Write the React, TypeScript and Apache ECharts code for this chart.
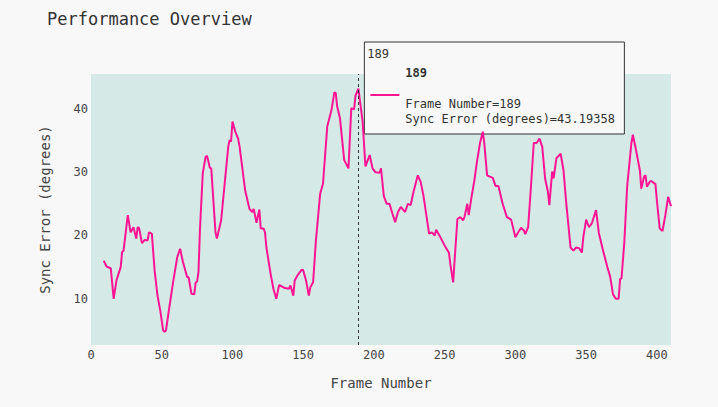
import React, { useEffect, useRef } from "react";
import * as echarts from "echarts";

const TITLE = "Performance Overview";
const X_NAME = "Frame Number";
const Y_NAME = "Sync Error (degrees)";

const frames: number[] = [
  9, 11, 13, 14, 16, 18, 21, 22, 23, 26, 28, 30, 32, 33, 34, 36, 38, 40, 41, 43,
  45, 47, 49, 51, 52, 53, 55, 58, 61, 63, 65, 68, 69, 71, 73, 74, 75, 76, 77, 79,
  81, 82, 84, 85, 88, 89, 92, 97, 98, 99, 100, 102, 104, 105, 109, 112, 114, 115, 117, 119,
  120, 122, 123, 124, 127, 129, 131, 133, 137, 140, 141, 143, 144, 146, 149, 150, 152, 154, 155, 157,
  159, 162, 164, 167, 170, 172, 173, 174, 176, 179, 182, 184, 186, 187, 189, 192, 194, 197, 199, 201,
  204, 205, 207, 209, 211, 213, 215, 217, 219, 222, 224, 226, 228, 231, 233, 235, 239, 241, 243, 244,
  247, 251, 253, 254, 256, 259, 261, 263, 264, 266, 267, 269, 271, 273, 275, 277, 278, 280, 282, 284,
  286, 288, 291, 294, 297, 300, 302, 304, 306, 307, 309, 311, 313, 315, 317, 319, 321, 323, 324, 326,
  327, 329, 332, 334, 336, 339, 341, 343, 345, 347, 348, 350, 352, 354, 357, 359, 362, 365, 367, 369,
  371, 373, 374, 375, 377, 379, 382, 383, 385, 388, 389, 391, 392, 393, 395, 396, 399, 400, 402, 404,
  406, 408, 410,
];

const syncError: number[] = [
  16.0, 15.1, 14.9, 14.8, 10.0, 12.9, 15.0, 17.4, 17.6, 23.2, 20.5, 21.3, 19.5, 21.3, 21.2, 18.8, 19.3, 19.2, 20.5, 20.3,
  14.4, 10.5, 8.1, 5.0, 4.8, 5.0, 8.1, 12.6, 16.6, 17.9, 15.8, 13.4, 13.4, 10.8, 10.7, 12.6, 12.7, 14.3, 20.8, 29.8,
  32.4, 32.6, 30.7, 30.6, 20.5, 19.5, 22.4, 34.0, 35.1, 34.8, 38.0, 36.4, 35.3, 34.1, 27.1, 24.2, 23.7, 24.2, 22.0, 24.1,
  21.1, 21.1, 20.5, 18.1, 13.9, 11.5, 10.0, 12.2, 11.7, 11.6, 12.1, 10.5, 12.9, 13.7, 14.6, 14.5, 12.9, 10.5, 11.8, 12.6,
  19.2, 26.6, 28.2, 37.2, 39.8, 42.6, 42.5, 40.4, 38.5, 31.9, 30.6, 40.1, 39.9, 42.1, 43.19358, 38.0, 30.9, 32.7, 30.6, 30.0,
  29.9, 30.6, 26.2, 25.0, 25.0, 23.5, 22.1, 23.7, 24.5, 23.7, 25.0, 24.8, 26.9, 29.5, 28.5, 26.3, 20.3, 20.5, 20.0, 20.9,
  19.7, 18.0, 17.3, 15.5, 12.6, 22.6, 22.9, 22.4, 22.9, 25.0, 23.2, 26.1, 28.7, 31.9, 34.6, 36.4, 34.6, 29.5, 29.3, 29.1,
  27.8, 27.8, 25.0, 22.9, 22.5, 19.7, 20.5, 21.2, 20.8, 20.2, 21.3, 27.7, 34.6, 34.6, 35.3, 34.0, 29.0, 26.9, 24.8, 30.1,
  29.0, 32.2, 32.9, 30.3, 25.0, 18.1, 17.6, 18.1, 18.0, 17.3, 19.7, 22.5, 21.3, 21.9, 24.0, 20.4, 17.6, 15.0, 13.5, 10.7,
  10.0, 10.0, 13.1, 13.2, 18.9, 27.7, 34.6, 35.9, 33.8, 30.3, 27.4, 29.3, 29.5, 27.7, 28.5, 28.6, 28.1, 25.6, 21.1, 20.7,
  23.2, 26.1, 24.6,
];

const HOVER_FRAME = 189;
const HOVER_VALUE_TEXT = "43.19358";

const FONT = "DejaVu Sans Mono";
const LINE_COLOR = "#FF1493";

export default function App() {
  const ref = useRef<HTMLDivElement>(null);

  useEffect(() => {
    if (!ref.current) return;
    const chart = echarts.init(ref.current, undefined, { renderer: "svg" });
    const data = frames.map((f, i) => [f, syncError[i]]);
    chart.setOption({
      animation: false,
      backgroundColor: "#f8f8f8",
      textStyle: { fontFamily: FONT },
      title: {
        text: TITLE,
        left: 47,
        top: 10,
        padding: 0,
        textStyle: { fontFamily: FONT, fontSize: 17, fontWeight: "normal", color: "#333" },
      },
      grid: {
        left: 91,
        right: 47,
        top: 74,
        bottom: 62,
        show: true,
        backgroundColor: "#d5eae7",
        borderWidth: 0,
      },
      xAxis: {
        type: "value",
        min: 0,
        max: 410,
        interval: 50,
        name: X_NAME,
        nameLocation: "middle",
        nameGap: 31,
        nameTextStyle: { fontFamily: FONT, fontSize: 14, color: "#444" },
        axisLine: { show: false },
        axisTick: { show: false },
        splitLine: { show: false },
        axisLabel: {
          fontFamily: FONT,
          fontSize: 12,
          color: "#444",
          margin: 4,
          showMaxLabel: false,
          formatter: (v: number) => (v % 50 === 0 ? String(v) : ""),
        },
      },
      yAxis: {
        type: "value",
        min: 2.7,
        max: 45.5,
        name: Y_NAME,
        nameLocation: "middle",
        nameGap: 39,
        nameTextStyle: { fontFamily: FONT, fontSize: 14, color: "#444" },
        axisLine: { show: false },
        axisTick: { show: false },
        splitLine: { show: false },
        axisLabel: {
          fontFamily: FONT,
          fontSize: 12,
          color: "#444",
          margin: 3,
          showMinLabel: false,
          showMaxLabel: false,
          formatter: (v: number) => (v % 10 === 0 ? String(v) : ""),
        },
      },
      series: [
        {
          type: "line",
          data,
          showSymbol: false,
          symbol: "none",
          lineStyle: { color: LINE_COLOR, width: 2 },
          itemStyle: { color: LINE_COLOR },
          markLine: {
            silent: true,
            symbol: ["none", "none"],
            label: { show: false },
            lineStyle: { color: "#333", width: 1, type: [3, 3] },
            data: [{ xAxis: HOVER_FRAME }],
          },
        },
      ],
    });

    const p = chart.convertToPixel({ seriesIndex: 0 }, [HOVER_FRAME, 43.19358]) as number[];
    const bx = p[0] + 6;
    const by = 42;
    const bw = 260;
    const bh = 92;
    chart.setOption({
      graphic: [
        {
          type: "group",
          z: 100,
          children: [
            {
              type: "rect",
              shape: { x: bx, y: by, width: bw, height: bh },
              style: { fill: "#f8f8f8", stroke: "#333", lineWidth: 1 },
            },
            {
              type: "text",
              x: bx + 3,
              y: by + 12,
              style: { text: String(HOVER_FRAME), font: `12px ${FONT}`, fill: "#333", verticalAlign: "middle" },
            },
            {
              type: "text",
              x: bx + 41,
              y: by + 31,
              style: { text: String(HOVER_FRAME), font: `bold 12px ${FONT}`, fill: "#333", verticalAlign: "middle" },
            },
            {
              type: "line",
              shape: { x1: bx + 6, y1: by + 53, x2: bx + 35, y2: by + 53 },
              style: { stroke: LINE_COLOR, lineWidth: 2 },
            },
            {
              type: "text",
              x: bx + 41,
              y: by + 62,
              style: { text: `${X_NAME}=${HOVER_FRAME}`, font: `12px ${FONT}`, fill: "#333", verticalAlign: "middle" },
            },
            {
              type: "text",
              x: bx + 41,
              y: by + 77,
              style: { text: `${Y_NAME}=${HOVER_VALUE_TEXT}`, font: `12px ${FONT}`, fill: "#333", verticalAlign: "middle" },
            },
          ],
        },
      ],
    });

    return () => chart.dispose();
  }, []);

  return (
    <div
      ref={ref}
      style={{ position: "fixed", left: 0, top: 0, width: 718, height: 407 }}
    />
  );
}
